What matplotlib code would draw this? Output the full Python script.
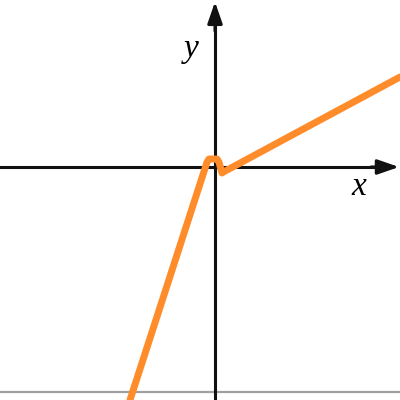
import matplotlib
matplotlib.use('Agg')
import matplotlib.pyplot as plt

# piecewise curve, in axis units (origin at the axes crossing)
curve_x = [-2.125, -0.2, -0.15, 0.05, 0.1, 0.175, 0.22, 4.625]
curve_y = [-5.825, 0.12, 0.2, 0.2, 0.12, -0.15, -0.12, 2.25]
floor_y = -5.625

fig = plt.figure(figsize=(4, 4), dpi=100)
ax = fig.add_axes([0, 0, 1, 1])
ax.set_xlim(-5.375, 4.625)
ax.set_ylim(-5.825, 4.175)
ax.axis('off')

# gray floor line
ax.axhline(floor_y, color='#a0a0a0', lw=1.6, zorder=1)

# axes with arrows
ax.plot([-5.375, 4.0], [0, 0], color='#111111', lw=2.2, zorder=2)
ax.plot([0, 0], [-5.825, 3.6], color='#111111', lw=2.2, zorder=2)
ax.annotate('', xy=(4.6, 0), xytext=(3.9, 0),
            arrowprops=dict(arrowstyle='-|>,head_length=1.3,head_width=0.45',
                            color='#111111', lw=2.2, shrinkA=0, shrinkB=0))
ax.annotate('', xy=(0, 4.13), xytext=(0, 3.4),
            arrowprops=dict(arrowstyle='-|>,head_length=1.3,head_width=0.45',
                            color='#111111', lw=2.2, shrinkA=0, shrinkB=0))

ax.text(3.6, -0.5, 'x', fontsize=24, family='Liberation Serif', style='italic',
        ha='center', va='center')
ax.text(-0.6, 2.95, 'y', fontsize=24, family='Liberation Serif', style='italic',
        ha='center', va='center')

ax.plot(curve_x, curve_y, color='#ff8c2a', lw=5, solid_joinstyle='round',
        solid_capstyle='round', zorder=3)

plt.savefig('out.png', dpi=100)
